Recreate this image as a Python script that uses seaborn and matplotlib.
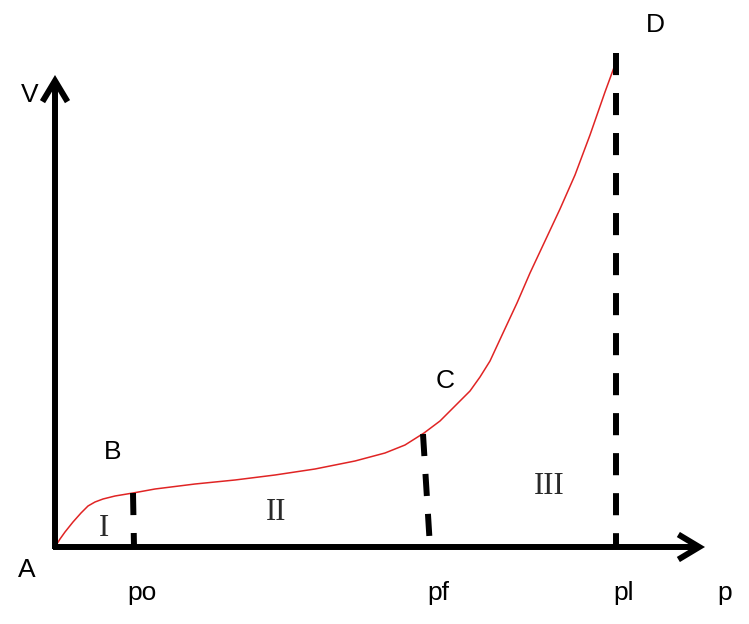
import numpy as np
import matplotlib
matplotlib.use("Agg")
import matplotlib.pyplot as plt
import seaborn as sns

# curve V(p) (origin at A)
p_curve = [0, 5, 10, 18, 26, 33, 40, 48, 60, 78, 100, 140, 180, 220, 260,
           300, 330, 350, 369, 385, 400, 415, 425, 435, 448, 462, 475, 490,
           505, 520, 535, 550, 561]
V_curve = [0, 8, 15, 25, 34, 41, 45, 48, 51, 54, 58, 63, 67, 72, 78,
           86, 94, 102, 114, 126, 141, 156, 170, 186, 214, 244, 274, 306,
           338, 372, 412, 455, 485]

# dashed boundaries: (p_top, V_top, p_bottom)
bound_names = ["po", "pf", "pl"]
bound_p_top = [78, 368, 561]
bound_V_top = [54, 113, 494]
bound_p_bot = [79, 375, 561]

point_names = ["A", "B", "C", "D"]
point_p = [-28, 58, 390, 600]
point_V = [-23, 95, 166, 522]

region_names = ["I", "II", "III"]
region_p = [49, 221, 494]
region_V = [19, 35, 60]

p_axis_end = 650
V_axis_end = 472

sns.set_theme(style="white")
plt.rcParams['font.family'] = ['Liberation Sans', 'DejaVu Sans']

fig = plt.figure(figsize=(7.49, 6.24), dpi=100)
ax = fig.add_axes([0, 0, 1, 1])
ax.set_xlim(-55, 694)
ax.set_ylim(-77, 547)
ax.axis("off")

# axes with arrows
arrow = dict(arrowstyle="->,head_length=0.75,head_width=0.45", lw=4.3,
             color="black", shrinkA=0, shrinkB=0, mutation_scale=20,
             joinstyle="miter", capstyle="butt")
ax.annotate("", xy=(p_axis_end, 0), xytext=(-2, 0), arrowprops=arrow)
ax.annotate("", xy=(0, V_axis_end), xytext=(0, -2), arrowprops=arrow)

# red curve
sns.lineplot(x=p_curve, y=V_curve, ax=ax, color="#e02424", linewidth=1.1,
             sort=False, estimator=None)

# dashed boundaries
for pt, vt, pb in zip(bound_p_top, bound_V_top, bound_p_bot):
    ax.plot([pt, pb], [vt, 0], color="black", linewidth=4.3,
            dashes=(3.7, 3.0), solid_capstyle="butt", dash_capstyle="butt")

fs = 19
for name, pb in zip(bound_names, bound_p_bot):
    ax.text(pb + 8, -46, name, fontsize=fs, ha="center", va="center",
            color="black")
ax.text(670, -46, "p", fontsize=fs, ha="center", va="center", color="black")
ax.text(-25, 452, "V", fontsize=fs, ha="center", va="center", color="black")

for name, x, y in zip(point_names, point_p, point_V):
    ax.text(x, y, name, fontsize=fs, ha="center", va="center", color="black")

for name, x, y in zip(region_names, region_p, region_V):
    ax.text(x, y, name, fontsize=22, ha="center", va="center",
            family=["Liberation Serif", "DejaVu Serif"], color="#2a2a2a")

fig.savefig("out.png", dpi=100)
